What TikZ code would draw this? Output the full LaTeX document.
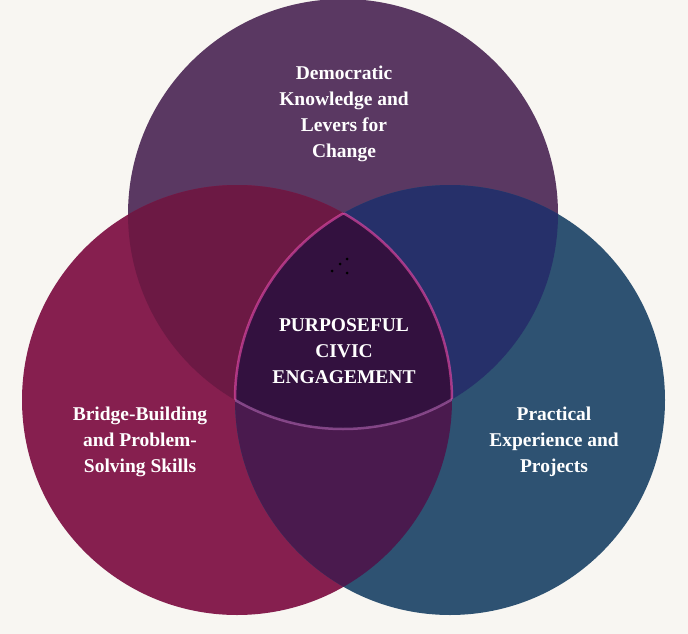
\documentclass[tikz,border=0pt]{standalone}
\usepackage{fontspec}
\setmainfont{Liberation Serif}
\begin{document}
\begin{tikzpicture}[x=1pt,y=-1pt,
  lbl/.style={text=white,font=\bfseries\fontsize{19.5}{26}\selectfont,align=center}]
\definecolor{bg}{HTML}{F8F6F2}
\definecolor{cT}{HTML}{5A3862}
\definecolor{cL}{HTML}{861F4F}
\definecolor{cR}{HTML}{2E5272}
\definecolor{cTL}{HTML}{6C1944}
\definecolor{cTR}{HTML}{26306A}
\definecolor{cLR}{HTML}{4A1A4E}
\definecolor{cC}{HTML}{33113F}
\fill[bg] (0,0) rectangle (688,634);
\useasboundingbox (0,0) rectangle (688,634);
\def\T{(343,214) circle (215)}
\def\L{(237,400) circle (215)}
\def\R{(450,400) circle (215)}
\fill[cT] \T; \fill[cL] \L; \fill[cR] \R;
\begin{scope}\clip \T; \fill[cTL] \L; \fill[cTR] \R;\end{scope}
\begin{scope}\clip \L; \fill[cLR] \R;\end{scope}
\begin{scope}\clip \T; \clip \L; \fill[cC] \R;\end{scope}
\begin{scope}\clip \T; \clip \L; \draw[magenta!70!white,line width=2.5pt,opacity=.6] \R;\end{scope}
\begin{scope}\clip \T; \clip \R; \draw[magenta!70!white,line width=2.5pt,opacity=.6] \L;\end{scope}
\begin{scope}\clip \L; \clip \R; \draw[violet!60!white,line width=2.5pt,opacity=.6] \T;\end{scope}
\node[lbl] (top) at (344,114) {Democratic\\Knowledge and\\Levers for\\Change};
\node[lbl] (left) at (140,442) {Bridge-Building\\and Problem-\\Solving Skills};
\node[lbl] (right) at (554,442) {Practical\\Experience and\\Projects};
\node[lbl] (center) at (344,351) {PURPOSEFUL\\CIVIC\\ENGAGEMENT};
\foreach \p/\q in {332/271,340/264,347/259,347/273} \fill[black] (\p,\q) circle (1.5);
\end{tikzpicture}
\end{document}
